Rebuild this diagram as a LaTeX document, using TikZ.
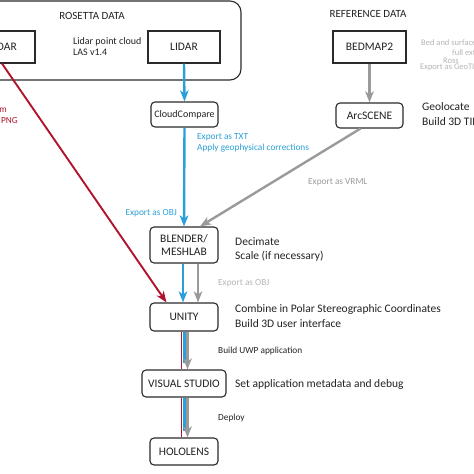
\documentclass[tikz,border=0pt]{standalone}
\usepackage{fontspec}
\setmainfont{Carlito}
\usetikzlibrary{arrows.meta,calc}
\definecolor{cblue}{HTML}{2A9FD8}
\definecolor{cred}{HTML}{B0142E}
\definecolor{cgray}{HTML}{9A9A9A}
\definecolor{cline}{HTML}{2A2A2A}
\definecolor{cfaint}{HTML}{B4B4B4}
\definecolor{ctxt}{HTML}{222222}
\tikzset{
  box/.style={draw=cline, line width=1.1pt, fill=white, text=ctxt, inner sep=0pt,
    font=\fontsize{11.5}{13}\selectfont, align=center},
  rbox/.style={box, rounded corners=4pt},
  container/.style={draw=cline, line width=1.1pt, rounded corners=11pt, inner sep=0pt},
  head/.style={-{Stealth[length=11pt,width=8.5pt,inset=3pt]}},
  bluearr/.style={head, draw=cblue, line width=2.4pt, color=cblue},
  grayarr/.style={head, draw=cgray, line width=2.4pt, color=cgray},
  redarr/.style={head, draw=cred, line width=1.9pt, color=cred},
  lbl/.style={anchor=west, inner sep=0pt, text=ctxt, align=left, font=\fontsize{11.5}{14.5}\selectfont},
  small/.style={anchor=west, inner sep=0pt, align=left, font=\fontsize{9.3}{11}\selectfont},
  faint/.style={anchor=west, inner sep=0pt, text=cfaint, font=\fontsize{8.5}{9}\selectfont},
}
\begin{document}
\begin{tikzpicture}[x=1pt,y=-1pt]
\useasboundingbox (0,0) rectangle (474,474);
% container
\node[container, minimum width=281pt, minimum height=79pt] (rosetta) at (100.5,40.5) {};
\node[inner sep=0pt, text=ctxt, font=\fontsize{11}{13}\selectfont] (rosettat) at (92,16) {ROSETTA DATA};
\node[inner sep=0pt, text=ctxt, font=\fontsize{11}{13}\selectfont] (reft) at (368,14) {REFERENCE DATA};
% boxes
\node[box, minimum width=64pt, minimum height=32pt] (lidarL) at (3,47) {LIDAR};
\node[box, minimum width=72pt, minimum height=32pt] (lidarR) at (184,47) {LIDAR};
\node[small, text=ctxt, font=\fontsize{10}{11}\selectfont] (lpc) at (73,46.5) {Lidar point cloud\\LAS v1.4};
\node[rbox, minimum width=67pt, minimum height=25pt, font=\fontsize{10}{12}\selectfont] (cloud) at (184.5,114.5) {CloudCompare};
\node[box, minimum width=73pt, minimum height=32pt] (bedmap) at (369.5,47) {BEDMAP2};
\node[rbox, minimum width=67pt, minimum height=25pt] (arc) at (369.5,115.5) {ArcSCENE};
\node[rbox, minimum width=68pt, minimum height=36pt] (blender) at (184,245) {BLENDER/\\MESHLAB};
\node[rbox, minimum width=68pt, minimum height=28pt] (unity) at (184,317) {UNITY};
\node[rbox, minimum width=84pt, minimum height=27pt] (vs) at (184,383.5) {VISUAL STUDIO};
\node[rbox, minimum width=68pt, minimum height=27pt] (holo) at (184,451.5) {HOLOLENS};
% faint reference text
\node[faint] (bed1) at (421,43) {Bed and surface};
\node[faint] (bed2) at (452,53) {full extent};
\node[faint] (bed3) at (443,61) {Ross};
\node[faint] (bed4) at (420,67) {Export as GeoTIFF};
% labels
\node[lbl] (geo) at (422,114) {Geolocate\\Build 3D TIN};
\node[small, text=cblue] (txt) at (197,142.5) {Export as TXT\\Apply geophysical corrections};
\node[small, text=cblue, anchor=east] (objb) at (177,213) {Export as OBJ};
\node[small, text=cgray] (vrml) at (308,182) {Export as VRML};
\node[lbl] (dec) at (235,249.5) {Decimate\\Scale (if necessary)};
\node[small, text=cfaint] (objg) at (218,283) {Export as OBJ};
\node[lbl] (comb) at (235,316) {Combine in Polar Stereographic Coordinates\\Build 3D user interface};
\node[small, text=ctxt] (uwp) at (218,351) {Build UWP application};
\node[lbl] (meta) at (235,384) {Set application metadata and debug};
\node[small, text=ctxt] (dep) at (218,418) {Deploy};
\node[small, text=cred, anchor=east] (rm) at (7,110) {m};
\node[small, text=cred, anchor=east] (rpng) at (18,121) {PNG};
% arrows
\draw[bluearr] (lidarR.south) -- (cloud.north);
\draw[bluearr] (cloud.south) -- ($(blender.north)+(0,0)$);
\draw[bluearr] ($(blender.south)+(-1,0)$) -- ($(unity.north)+(-1,0)$);
\draw[grayarr] ($(blender.south)+(14,0)$) -- ($(unity.north)+(14,0)$);
\draw[grayarr] (bedmap.south) -- (arc.north);
\draw[grayarr] ($(arc.south)+(-9,0)$) -- ($(blender.north)+(16,0)$);
\draw[redarr] ($(lidarL.south)+(-1,0)$) -- ($(unity.north west)+(17,0)$);
% combined arrows
\draw[draw=cred, line width=1.6pt] ($(unity.south)+(-2.5,0)$) -- ($(vs.north)+(-2.5,0)$);
\draw[draw=cblue, line width=2.6pt] ($(unity.south)+(0.5,0)$) -- ($(vs.north)+(0.5,-6)$);
\draw[grayarr, line width=3.6pt] ($(unity.south)+(3.5,0)$) -- ($(vs.north)+(3.5,0)$);
\draw[draw=cred, line width=1.6pt] ($(vs.south)+(-2.5,0)$) -- ($(holo.north)+(-2.5,0)$);
\draw[draw=cblue, line width=2.6pt] ($(vs.south)+(0.5,0)$) -- ($(holo.north)+(0.5,-6)$);
\draw[grayarr, line width=3.6pt] ($(vs.south)+(3.5,0)$) -- ($(holo.north)+(3.5,0)$);
\end{tikzpicture}
\end{document}
